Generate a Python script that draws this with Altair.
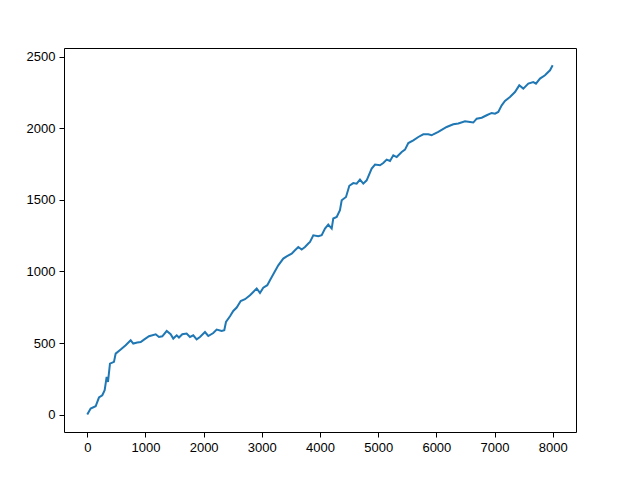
import altair as alt
import pandas as pd

steps = [0, 58, 144, 201, 258, 299, 333, 356, 390, 459, 488, 574, 660, 746, 791, 859, 918, 975,
         1061, 1176, 1232, 1289, 1365, 1433, 1478, 1537, 1576, 1633, 1708, 1765, 1822, 1880, 1937,
         2023, 2080, 2166, 2224, 2310, 2355, 2384, 2453, 2509, 2568, 2637, 2711, 2797, 2853, 2912,
         2968, 3025, 3094, 3140, 3197, 3283, 3369, 3427, 3513, 3570, 3627, 3685, 3742, 3799, 3828,
         3885, 3971, 4029, 4086, 4142, 4201, 4228, 4287, 4343, 4373, 4447, 4504, 4572, 4630, 4687,
         4744, 4802, 4888, 4946, 5031, 5088, 5146, 5203, 5260, 5318, 5404, 5461, 5518, 5604, 5690,
         5775, 5861, 5920, 5948, 6033, 6062, 6177, 6291, 6377, 6492, 6578, 6635, 6693, 6779, 6865,
         6951, 7008, 7064, 7123, 7179, 7265, 7351, 7425, 7494, 7580, 7666, 7712, 7781, 7867, 7953,
         7999]
values = [0, 42, 58, 119, 135, 170, 263, 228, 356, 368, 426, 454, 484, 519, 496, 503, 507, 524,
          547, 561, 542, 547, 584, 561, 531, 554, 538, 561, 566, 542, 554, 526, 542,
          577, 549, 570, 594, 584, 589, 647, 687, 724, 748, 794, 806, 834, 857, 881,
          850, 887, 904, 939, 980, 1043, 1090, 1106, 1125, 1148, 1171, 1153, 1171, 1195, 1206,
          1253, 1246, 1253, 1300, 1328, 1300, 1370, 1381, 1428, 1498, 1521, 1599, 1618, 1614, 1642,
          1614, 1637, 1719, 1747, 1742, 1758, 1782, 1772, 1812, 1800, 1835, 1852, 1898, 1917, 1940,
          1959, 1959, 1952, 1959, 1975, 1982, 2010, 2029, 2034, 2050, 2045, 2041, 2068, 2075, 2092,
          2108, 2103, 2115, 2161, 2192, 2219, 2254, 2301, 2278, 2313, 2324, 2313, 2348, 2371, 2406,
          2441]

x_ticks = [0, 1000, 2000, 3000, 4000, 5000, 6000, 7000, 8000]
y_ticks = [0, 500, 1000, 1500, 2000, 2500]

df = pd.DataFrame({"step": steps, "value": values})

axis_common = dict(
    grid=False,
    domain=False,
    tickColor="black",
    tickSize=5,
    tickWidth=1,
    labelColor="black",
    labelFont="Liberation Sans",
    labelFontSize=13,
    labelPadding=4,
    title=None,
)

chart = alt.Chart(df).mark_line(color="#1f77b4", strokeWidth=2, clip=True).encode(
    x=alt.X("step:Q",
            scale=alt.Scale(domain=[-400, 8400], nice=False, zero=False),
            axis=alt.Axis(values=x_ticks, format="d", **axis_common)),
    y=alt.Y("value:Q",
            scale=alt.Scale(domain=[-122, 2562], nice=False, zero=False),
            axis=alt.Axis(values=y_ticks, format="d", **axis_common)),
).properties(
    width=512,
    height=384,
    autosize=alt.AutoSizeParams(type="none"),
    padding={"left": 56, "top": 40, "right": 56, "bottom": 40},
).configure_view(
    stroke="black",
    strokeWidth=1,
)

chart.save("out.html", embed_options={"renderer": "svg", "actions": False})
